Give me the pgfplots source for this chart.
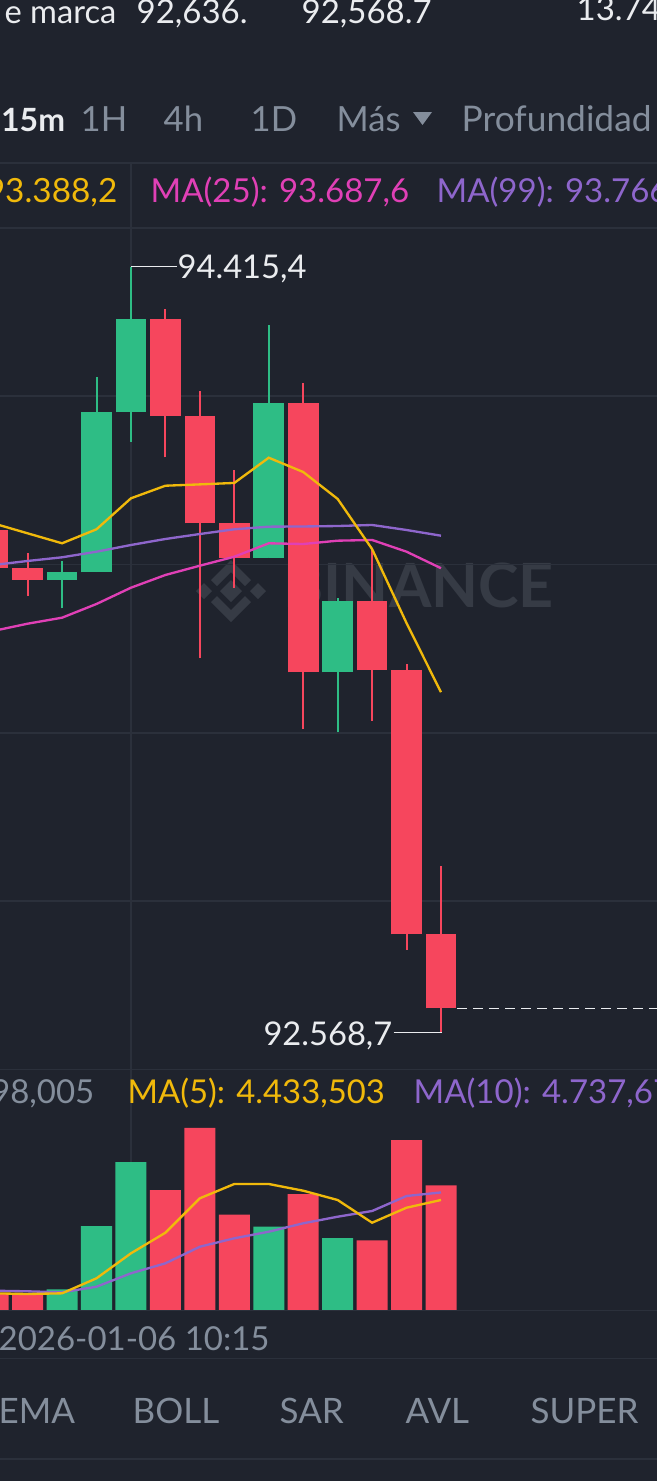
\documentclass[border=0pt]{standalone}
\usepackage{pgfplots}
\usepackage{pgfplotstable}
\pgfplotsset{compat=1.18}
\usepackage{fontspec}
\setmainfont{Lato}
\definecolor{bg}{HTML}{1F232D}
\definecolor{gridc}{HTML}{2B303B}
\definecolor{upc}{HTML}{2EBD85}
\definecolor{dnc}{HTML}{F6465D}
\definecolor{ma7}{HTML}{F0B90B}
\definecolor{ma25}{HTML}{E040B6}
\definecolor{ma99}{HTML}{8E66CC}
\definecolor{txtw}{HTML}{EAECEF}
\definecolor{txtg}{HTML}{848E9C}
\definecolor{wm}{HTML}{363B45}
\newcommand\fs[1]{\fontsize{#1}{#1}\selectfont}
% candles: index, open, high, low, close
\pgfplotstableread{
k o h l c
2 93659.1 93705.0 93590.8 93677.7
3 93677.7 94149.9 93677.7 94063.9
4 94063.9 94415.4 93992.9 94288.4
8 93712.9 94274.7 93712.9 94085.6
10 93436.3 93614.9 93291.4 93608.4
}\updata
\pgfplotstableread{
k o h l c
0 93779.8 93800.0 93670.0 93688.8
1 93687.3 93723.5 93620.5 93659.1
5 94288.4 94314.0 93955.3 94055.7
6 94055.0 94115.3 93470.1 93796.0
7 93796.0 93924.6 93640.5 93712.9
9 94085.6 94133.9 93299.4 93436.3
11 93608.4 93731.5 93319.4 93441.8
12 93441.8 93456.3 92765.9 92803.8
13 92803.8 92968.7 92568.7 92625.2
}\dndata
\pgfplotsset{
  wick/.style={only marks, mark size=0pt, mark options={draw=none, fill=none}, forget plot, error bars/.cd, y dir=plus, y explicit, error mark=none, error bar style={draw=#1, line width=0.6pt}},
  body/.style={only marks, mark size=0pt, mark options={draw=none, fill=none}, forget plot, error bars/.cd, y dir=plus, y explicit, error mark=none, error bar style={draw=#1, line width=9.2pt, line cap=butt}}}
\begin{document}
\begin{tikzpicture}
\path[use as bounding box] (0pt,0pt) rectangle (197.1pt,-444.3pt);
\clip (0pt,0pt) rectangle (197.1pt,-444.3pt);
\fill[bg] (0pt,0pt) rectangle (197.1pt,-444.3pt);
\begin{scope}[x=0.3pt,y=-0.3pt]
  \foreach \yy in {163,228,1069.5,1358.5,1459} \draw[gridc, line width=0.5pt] (0,\yy) -- (657,\yy);
  \draw[gridc, line width=0.5pt] (131.3,163) -- (131.3,1310);
  % watermark
  \node[anchor=base west, inner sep=0, text=wm] at (283,607) {\fs{18.3}\bfseries BINANCE};
  \begin{scope}[shift={(231,591)}]
    \fill[wm] (0,-11)--(11,0)--(0,11)--(-11,0)--cycle;
    \fill[wm] (-27,-8)--(-19,0)--(-27,8)--(-35,0)--cycle;
    \fill[wm] (27,-8)--(19,0)--(27,8)--(35,0)--cycle;
    \fill[wm] (-20,-11)--(0,-31)--(20,-11)--(14,-5)--(0,-19)--(-14,-5)--cycle;
    \fill[wm] (-20,11)--(0,31)--(20,11)--(14,5)--(0,19)--(-14,5)--cycle;
  \end{scope}
\end{scope}
% price panel
\begin{axis}[at={(0pt,-321pt)}, anchor=south west, scale only axis,
  width=197.1pt, height=252.6pt,
  xmin=0.1988, xmax=19.27, ymin=92476.2, ymax=94508.8,
  axis line style={draw=none}, xtick=\empty,
  ytick={92883.7,93290.2,93696.5,94102.5}, yticklabels={}, scaled y ticks=false,
  major tick length=0pt, ymajorgrids, major grid style={draw=gridc, line width=0.5pt},
  clip=true]
\addplot[wick=upc] table[x=k, y=l, y error plus expr=\thisrow{h}-\thisrow{l}] {\updata};
\addplot[wick=dnc] table[x=k, y=l, y error plus expr=\thisrow{h}-\thisrow{l}] {\dndata};
\addplot[body=upc] table[x=k, y=o, y error plus expr=\thisrow{c}-\thisrow{o}] {\updata};
\addplot[body=dnc] table[x=k, y=c, y error plus expr=\thisrow{o}-\thisrow{c}] {\dndata};
\addplot[ma99, line width=0.7pt] coordinates {(0,93695.3) (1,93705.0) (2,93713.9) (3,93727.4) (4,93743.6) (5,93758.1) (6,93770.1) (7,93781.5) (8,93787.8) (9,93788.3) (10,93789.4) (11,93791.9) (12,93779.8) (13,93766.0)};
\addplot[ma25, line width=0.7pt] coordinates {(0,93536.0) (1,93553.6) (2,93568.1) (3,93601.2) (4,93640.5) (5,93671.2) (6,93693.6) (7,93715.3) (8,93747.7) (9,93746.0) (10,93754.0) (11,93755.7) (12,93727.4) (13,93687.6)};
\addplot[ma7, line width=0.7pt] coordinates {(0,93796.0) (1,93771.8) (2,93747.7) (3,93781.5) (4,93856.3) (5,93886.7) (6,93889.9) (7,93893.4) (8,93954.3) (9,93919.8) (10,93854.8) (11,93733.8) (12,93555.0) (13,93388.2)};
\end{axis}
% volume panel
\begin{axis}[at={(0pt,-393pt)}, anchor=south west, scale only axis,
  width=197.1pt, height=60pt,
  xmin=0.1988, xmax=19.27, ymin=0, ymax=8060, hide axis, clip=true]
\addplot[ybar, bar width=0.9, bar shift=0pt, fill=upc, draw=none] coordinates {(2,834) (3,3385) (4,5964) (8,3357) (10,2902)};
\addplot[ybar, bar width=0.9, bar shift=0pt, fill=dnc, draw=none] coordinates {(0,685) (1,673) (5,4836) (6,7335) (7,3841) (9,4675) (11,2809) (12,6851) (13,5025)};
\addplot[ma99, line width=0.7pt] coordinates {(0,778) (1,754) (2,713) (3,939) (4,1479) (5,1882) (6,2551) (7,2890) (8,3155) (9,3494) (10,3760) (11,3990) (12,4594) (13,4737.7)};
\addplot[ma7, line width=0.7pt] coordinates {(0,673) (1,645) (2,673) (3,1278) (4,2285) (5,3115) (6,4502) (7,5078) (8,5078) (9,4808) (10,4433) (11,3518) (12,4123) (13,4433.5)};
\end{axis}
\begin{scope}[x=0.3pt,y=-0.3pt]
  \draw[gridc, line width=0.5pt] (0,1310.5) -- (657,1310.5);
  % last price line
  \draw[txtw, line width=0.4pt, dash pattern=on 3pt off 1.8pt] (457,1008.3) -- (657,1008.3);
  % annotations
  \draw[txtw, line width=0.35pt] (131,266.7) -- (176.7,266.7);
  \node[anchor=base west, inner sep=0, text=txtw] at (177,278.5) {\fs{9.8}94.415,4};
  \draw[txtw, line width=0.35pt] (393.5,1032.2) -- (441.5,1032.2);
  \node[anchor=base east, inner sep=0, text=txtw] at (393,1045) {\fs{9.8}92.568,7};
  % top row
  \node[anchor=base east, inner sep=0, text=txtw] at (117,24) {\fs{9.8}e marca};
  \node[anchor=base west, inner sep=0, text=txtw] at (136,24) {\fs{9.9}92,636.};
  \node[anchor=base west, inner sep=0, text=txtw] at (301,24) {\fs{9.9}92,568.7};
  \node[anchor=base west, inner sep=0, text=txtw] at (576,20) {\fs{9.9}13.74};
  % tabs
  \node[anchor=base west, inner sep=0, text=txtw] at (0.5,131) {\fs{9.6}\bfseries 15m};
  \node[anchor=base west, inner sep=0, text=txtg] at (80,131) {\fs{10.4}1H};
  \node[anchor=base west, inner sep=0, text=txtg] at (163,131) {\fs{10.4}4h};
  \node[anchor=base west, inner sep=0, text=txtg] at (250,131) {\fs{10.4}1D};
  \node[anchor=base west, inner sep=0, text=txtg] at (336,131) {\fs{10.4}Más};
  \fill[txtg] (413,112) -- (432,112) -- (422.5,125) -- cycle;
  \node[anchor=base west, inner sep=0, text=txtg] at (461,131) {\fs{10.6}Profundidad};
  % MA row
  \node[anchor=base east, inner sep=0, text=ma7] at (118,202) {\fs{10}93.388,2};
  \node[anchor=base west, inner sep=0, text=ma25] at (150,202) {\fs{9.9}MA(25): 93.687,6};
  \node[anchor=base west, inner sep=0, text=ma99] at (436,202) {\fs{9.9}MA(99): 93.766,0};
  % volume row
  \node[anchor=base east, inner sep=0, text=txtg] at (95,1103) {\fs{9.9}98,005};
  \node[anchor=base west, inner sep=0, text=ma7] at (127,1103) {\fs{9.85}MA(5): 4.433,503};
  \node[anchor=base west, inner sep=0, text=ma99] at (413,1103) {\fs{9.9}MA(10): 4.737,672};
  % date
  \node[anchor=base west, inner sep=0, text=txtg] at (-2,1350) {\fs{9.9}2026-01-06 10:15};
  % indicators
  \node[anchor=base west, inner sep=0, text=txtg] at (-2,1423) {\fs{10.5}EMA};
  \node[anchor=base west, inner sep=0, text=txtg] at (132,1423) {\fs{10.5}BOLL};
  \node[anchor=base west, inner sep=0, text=txtg] at (279,1423) {\fs{10.5}SAR};
  \node[anchor=base west, inner sep=0, text=txtg] at (405,1423) {\fs{10.5}AVL};
  \node[anchor=base west, inner sep=0, text=txtg] at (530,1423) {\fs{10.5}SUPER};
\end{scope}
\end{tikzpicture}
\end{document}
